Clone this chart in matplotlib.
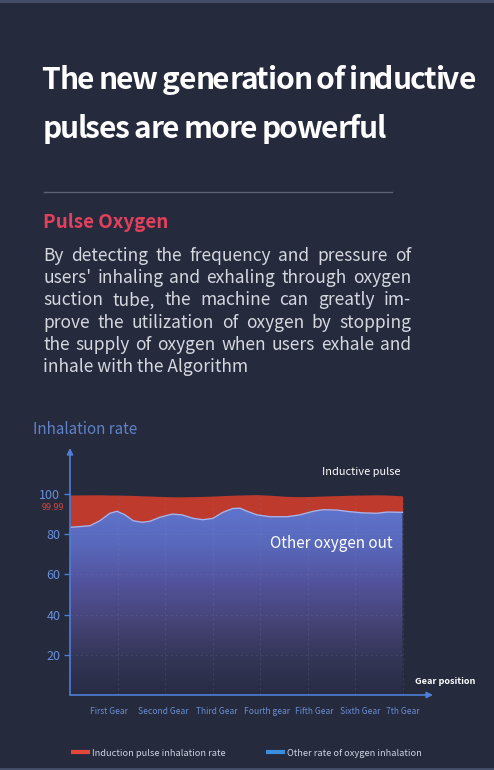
import numpy as np
import matplotlib
matplotlib.use('Agg')
import matplotlib.pyplot as plt
from matplotlib.colors import LinearSegmentedColormap
from matplotlib.lines import Line2D
from matplotlib.font_manager import findfont, FontProperties, get_font

plt.rcParams['font.family'] = ['Noto Sans CJK SC', 'DejaVu Sans']

# --- data ---
gears = ['First Gear', 'Second Gear', 'Third Gear', 'Fourth gear',
         'Fifth Gear', 'Sixth Gear', '7th Gear']
gear_pos = [1, 2, 3, 4, 5, 6, 7]
label_pos = [0.82, 1.96, 3.09, 4.15, 5.14, 6.11, 7.01]
y_ticks = [20, 40, 60, 80, 100]

sample_x = [0.0, 0.42, 0.63, 0.84, 0.99, 1.16, 1.33, 1.52, 1.68, 1.89, 2.15,
            2.36, 2.59, 2.80, 3.01, 3.22, 3.43, 3.58, 3.73, 3.94, 4.21, 4.57,
            4.84, 5.12, 5.33, 5.62, 5.89, 6.17, 6.46, 6.67, 7.0]
other_rate = [83.4, 84.2, 86.7, 90.4, 91.4, 89.6, 86.7, 85.9, 86.4, 88.4, 90.0,
              89.6, 87.9, 87.2, 87.9, 90.9, 92.8, 92.9, 91.4, 89.6, 88.7, 88.7,
              89.6, 91.4, 92.2, 92.0, 91.2, 90.6, 90.4, 91.0, 90.9]
pulse_rate = [99.5, 99.6, 99.6, 99.5, 99.5, 99.4, 99.3, 99.1, 99.0, 98.8, 98.6,
              98.6, 98.7, 98.8, 99.0, 99.2, 99.4, 99.5, 99.6, 99.7, 99.4, 98.8,
              98.7, 98.8, 99.0, 99.2, 99.4, 99.5, 99.6, 99.5, 99.1]

title_lines = ['The new generation of inductive', 'pulses are more powerful']
paragraph = ["By detecting the frequency and pressure of",
             "users' inhaling and exhaling through oxygen",
             "suction tube, the machine can greatly im-",
             "prove the utilization of oxygen by stopping",
             "the supply of oxygen when users exhale and",
             "inhale with the Algorithm"]

BG = '#252a3d'
W, H = 494, 770

fig = plt.figure(figsize=(W / 100, H / 100), dpi=100, facecolor=BG)
renderer = fig.canvas.get_renderer()


def fx(px):
    return px / W


def fy(py):
    return 1 - py / H


def glyph_metrics(text, size, weight):
    # advance and left bearing (pixels) of each character at 100 dpi
    font = get_font(findfont(FontProperties(family='Noto Sans CJK SC', weight=weight)))
    font.set_size(size, 100)
    out = []
    for c in text:
        g = font.load_char(ord(c))
        out.append((g.linearHoriAdvance / 65536, g.horiBearingX / 64))
    return out


def tracked_text(x, y, text, size, tracking, **kw):
    # draw text char by char with extra spacing (pixels) between letters
    pos = x
    for c, (adv, bear) in zip(text, glyph_metrics(text, size, kw.get('fontweight', 'normal'))):
        if c != ' ':
            fig.text(fx(pos + bear), fy(y), c, fontsize=size, ha='left', **kw)
        pos += adv + tracking


# thin lighter borders top and bottom
fig.add_artist(Line2D([0, 1], [fy(1), fy(1)], color='#46506a', lw=2))
fig.add_artist(Line2D([0, 1], [fy(769), fy(769)], color='#46506a', lw=2))

# heading: large letters, tight tracking so the first line spans 40..475 px
title_size = 21.6
natural = sum(a for a, b in glyph_metrics(title_lines[0], title_size, 'bold'))
track = (435 - natural) / (len(title_lines[0]) - 1)
tracked_text(40, 89, title_lines[0], title_size, track, color='white',
             fontweight='bold', va='baseline')
tracked_text(40, 138, title_lines[1], title_size, track, color='white',
             fontweight='bold', va='baseline')
fig.add_artist(Line2D([fx(44), fx(392)], [fy(192), fy(192)], color='#5d6274', lw=1))

fig.text(fx(43), fy(222), 'Pulse Oxygen', color='#e2405c', fontsize=13.6,
         fontweight='bold', va='center', ha='left')

# justified paragraph
left, right = 43, 411
for i, line in enumerate(paragraph):
    yy = fy(256 + i * 22.2)
    words = line.split(' ')
    if i == len(paragraph) - 1:
        fig.text(fx(left), yy, line, color='#d6d8e0', fontsize=12.5,
                 va='center', ha='left')
        continue
    texts = [fig.text(0, yy, w, color='#d6d8e0', fontsize=12.5,
                      va='center', ha='left') for w in words]
    widths = [t.get_window_extent(renderer).width for t in texts]
    gap = (right - left - sum(widths)) / (len(words) - 1)
    xpos = left
    for t, w in zip(texts, widths):
        t.set_x(fx(xpos))
        xpos += w + gap

# chart
x0, x1 = 70, 433
ax = fig.add_axes([fx(x0), fy(695), (x1 - x0) / W, (695 - 448) / H])
ax.set_facecolor('none')
xmax = (x1 - x0) / 47.5
ymax = (695 - 448) / 2.01
ax.set_xlim(0, xmax)
ax.set_ylim(0, ymax)
for s in ax.spines.values():
    s.set_visible(False)

# gradient blue area
cmap = LinearSegmentedColormap.from_list('oxy', [
    (0.0, '#272c44'), (0.2, '#343657'), (0.4, '#474478'),
    (0.6, '#52529c'), (0.8, '#5968bb'), (1.0, '#5e74cc')])
grad = np.linspace(0, 1, 256).reshape(-1, 1)
poly = ax.fill_between(sample_x, 0, other_rate, color='none', lw=0)
im = ax.imshow(grad, extent=[0, 7, 0, 93], origin='lower', aspect='auto',
               cmap=cmap, zorder=1)
im.set_clip_path(poly.get_paths()[0], transform=ax.transData)

ax.fill_between(sample_x, other_rate, pulse_rate, color='#bd3a2d', lw=0, zorder=2)
ax.plot(sample_x, other_rate, color='#a2b4f2', lw=1, zorder=3)

# faint grid
for g in gear_pos:
    ax.plot([g, g], [0, 99], color='#8a90c0', lw=0.6, ls=(0, (3, 3)), alpha=0.18, zorder=2)
for t in y_ticks[:-1]:
    ax.plot([0, 7], [t, t], color='#8a90c0', lw=0.6, ls=(0, (3, 3)), alpha=0.18, zorder=2)

# axes with arrows
axis_c = '#4d7fd6'
ax.annotate('', xy=(xmax, 0), xytext=(0, 0),
            arrowprops=dict(arrowstyle='-|>', color=axis_c, lw=1.2, mutation_scale=9,
                            shrinkA=0, shrinkB=0), zorder=4)
ax.annotate('', xy=(0, ymax), xytext=(0, 0),
            arrowprops=dict(arrowstyle='-|>', color=axis_c, lw=1.2, mutation_scale=9,
                            shrinkA=0, shrinkB=0), zorder=4)

ax.set_yticks(y_ticks)
ax.set_yticklabels([str(v) for v in y_ticks])
ax.tick_params(axis='y', colors=axis_c, length=4, width=1, labelsize=9,
               labelcolor='#6890dc', pad=3)
ax.set_xticks(label_pos)
ax.set_xticklabels(gears)
ax.tick_params(axis='x', length=0, labelsize=6.1, labelcolor='#6a8fd6', pad=9)

ax.text(-0.12, 99.99 - 6.5, '99.99', color='#d8443a', fontsize=6.5,
        ha='right', va='center', transform=ax.transData)

fig.text(fx(33), fy(430), 'Inhalation rate', color='#5f82c8', fontsize=10.9,
         va='center', ha='left')
fig.text(fx(361), fy(472), 'Inductive pulse', color='white', fontsize=7.9,
         va='center', ha='center')
fig.text(fx(331), fy(543), 'Other oxygen out', color='white', fontsize=11,
         va='center', ha='center')
fig.text(fx(445), fy(682), 'Gear position', color='white', fontsize=6.6,
         fontweight='bold', va='center', ha='center')

# legend
handles = [Line2D([], [], color='#e0483a', lw=3),
           Line2D([], [], color='#3a8ee0', lw=3)]
fig.legend(handles, ['Induction pulse inhalation rate', 'Other rate of oxygen inhalation'],
           loc='center', bbox_to_anchor=(0.501, fy(753)), ncol=2, frameon=False,
           handlelength=1.6, columnspacing=4.5, handletextpad=0.5,
           labelcolor='#d0d3e0', prop={'size': 6.7})

fig.savefig('out.png', dpi=100, facecolor=BG)
